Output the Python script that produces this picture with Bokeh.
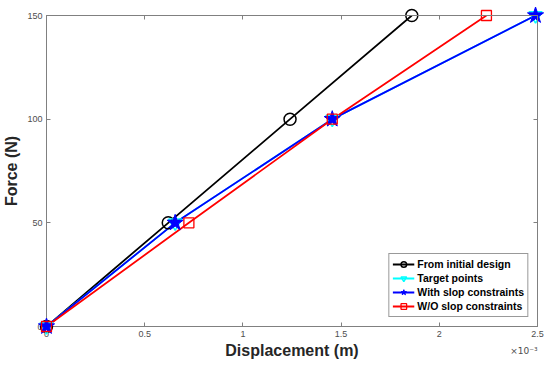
from bokeh.plotting import figure
from bokeh.models import Range1d, LinearAxis, FixedTicker, CustomLabelingPolicy
from bokeh.core.properties import value
from bokeh.embed import file_html
from bokeh.resources import INLINE

# Displacement values in units of 1e-3 m, force in N
disp_initial = [0, 0.62, 1.24, 1.86]
force_initial = [0, 50, 100, 150]
disp_target = [0, 0.655, 1.455, 2.49]
force_target = [0, 50, 100, 150]
disp_slope = [0, 0.655, 1.455, 2.49]
force_slope = [0, 50, 100, 150]
disp_noslope = [0, 0.725, 1.455, 2.24]
force_noslope = [0, 50, 100, 150]
x_ticks = [0, 0.5, 1, 1.5, 2, 2.5]
y_ticks = [0, 50, 100, 150]
x_multiplier = "×10⁻³"

AX = "#808080"
TICK_TXT = "#4d4d4d"
LAB_TXT = "#262626"
FONT = "Liberation Sans"

p = figure(width=545, height=362, output_backend="svg", toolbar_location=None,
           x_range=Range1d(0, 2.5), y_range=Range1d(0, 150),
           min_border_left=44, min_border_right=8, min_border_top=15, min_border_bottom=36)
p.grid.visible = False
p.outline_line_color = AX

for ax in (p.xaxis[0], p.yaxis[0]):
    ax.axis_line_color = AX
    ax.major_tick_line_color = AX
    ax.major_tick_in = 4
    ax.major_tick_out = 0
    ax.minor_tick_line_color = None
    ax.major_label_text_font = FONT
    ax.major_label_text_font_size = "9px"
    ax.major_label_text_color = TICK_TXT
    ax.axis_label_text_font = FONT
    ax.axis_label_text_font_style = "bold"
    ax.axis_label_text_font_size = "16px"
    ax.axis_label_text_color = LAB_TXT
    ax.major_label_standoff = 4

p.xaxis[0].ticker = FixedTicker(ticks=x_ticks)
p.yaxis[0].ticker = FixedTicker(ticks=y_ticks)
p.xaxis[0].axis_label = "Displacement (m)"
p.yaxis[0].axis_label = "Force (N)"
p.xaxis[0].axis_label_standoff = 2
p.yaxis[0].axis_label_standoff = 4

hide_all = CustomLabelingPolicy(code="for (const i of Array.from(indices)) { indices.unset(i) } return indices")
top = LinearAxis(ticker=FixedTicker(ticks=x_ticks), major_label_policy=hide_all,
                 axis_line_color=AX, major_tick_line_color=AX, major_tick_in=4, major_tick_out=0,
                 minor_tick_line_color=None, major_label_text_font_size="0px",
                 major_label_standoff=0, level="overlay")
right = LinearAxis(ticker=FixedTicker(ticks=y_ticks), major_label_policy=hide_all,
                   axis_line_color=AX, major_tick_line_color=AX, major_tick_in=4, major_tick_out=0,
                   minor_tick_line_color=None, major_label_text_font_size="0px",
                   major_label_standoff=0, level="overlay")
p.add_layout(top, "above")
p.add_layout(right, "right")

lw = 1.8
l1 = "From initial design"
p.line(disp_initial, force_initial, color="black", line_width=lw, legend_label=l1)
p.scatter(disp_initial, force_initial, marker="circle", size=12, fill_color=None,
          line_color="black", line_width=1.5, legend_label=l1, level="overlay")

l2 = "Target points"
p.line(disp_target, force_target, color="cyan", line_width=lw, legend_label=l2)
p.scatter(disp_target, force_target, marker="inverted_triangle", size=13, fill_color=None,
          line_color="cyan", line_width=1.5, legend_label=l2, level="overlay")

l3 = "With slop constraints"
p.line(disp_slope, force_slope, color="blue", line_width=lw, legend_label=l3)
p.scatter(disp_slope, force_slope, marker="star", size=17, fill_color="blue",
          line_color="blue", line_width=1, legend_label=l3, level="overlay")

l4 = "W/O slop constraints"
p.line(disp_noslope, force_noslope, color="red", line_width=lw, legend_label=l4)
p.scatter(disp_noslope, force_noslope, marker="square", size=10, fill_color=None,
          line_color="red", line_width=1.3, legend_label=l4, level="overlay")

lg = p.legend[0]
lg.location = "bottom_right"
lg.margin = 9
lg.padding = 3
lg.spacing = 0
lg.label_height = 14
lg.glyph_height = 14
lg.glyph_width = 22
lg.label_standoff = 3
lg.label_text_font = FONT
lg.label_text_font_style = "bold"
lg.label_text_font_size = "10.5px"
lg.label_text_color = "black"
lg.border_line_color = "#333333"
lg.border_line_width = 1
lg.background_fill_alpha = 1

# axis multiplier text, placed just under the right end of the x axis
p.text(x=[x_ticks[-1]], y=[-12], text=[x_multiplier], text_align="right",
       text_baseline="middle", text_font=value("DejaVu Sans"), text_font_size="9px",
       text_color=TICK_TXT, level="overlay")

open("out.html", "w").write(file_html(p, INLINE))
